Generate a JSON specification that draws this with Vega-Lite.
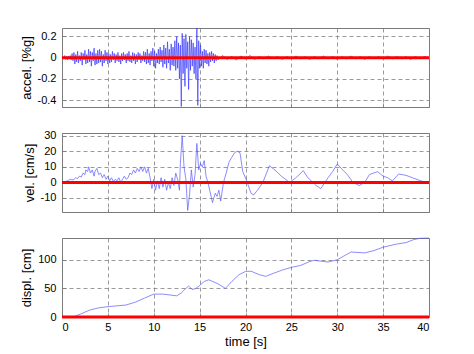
{
  "$schema": "https://vega.github.io/schema/vega-lite/v6.json",
  "padding": {"left": 19, "top": 26, "right": 0, "bottom": 0},
  "background": "white",
  "bounds": "flush",
  "config": {
    "font": "Liberation Sans",
    "view": {"stroke": "#7a7a7a", "strokeWidth": 1},
    "axis": {"grid": true, "gridColor": "#808080", "gridDash": [4, 3], "gridWidth": 0.8, "gridOpacity": 1, "domain": false, "ticks": true, "tickSize": -4, "tickColor": "#7a7a7a", "tickWidth": 0.8, "labelFont": "Liberation Sans", "labelFontSize": 11, "labelColor": "#000", "titleFont": "Liberation Sans", "titleFontSize": 13, "titleFontWeight": "normal", "titleColor": "#000", "labelPadding": 10, "titlePadding": 4, "labelOverlap": false},
    "concat": {"spacing": 26}
  },
  "datasets": {
    "acc": [
      {"t":0,"v":0},{"t":0.1,"v":0.01},{"t":0.2,"v":-0.01},{"t":0.3,"v":0.02},{"t":0.4,"v":-0.015},{"t":0.5,"v":0.01},{"t":0.6,"v":-0.02},{"t":0.7,"v":0.015},{"t":0.8,"v":-0.01},{"t":0.9,"v":0.02},
      {"t":1.0,"v":-0.02},{"t":1.1,"v":0.04},{"t":1.2,"v":-0.03},{"t":1.3,"v":0.05},{"t":1.4,"v":-0.06},{"t":1.5,"v":0.03},{"t":1.6,"v":-0.04},{"t":1.7,"v":0.06},{"t":1.8,"v":-0.05},{"t":1.9,"v":0.02},
      {"t":2.0,"v":-0.03},{"t":2.1,"v":0.05},{"t":2.2,"v":-0.07},{"t":2.3,"v":0.04},{"t":2.4,"v":-0.02},{"t":2.5,"v":0.07},{"t":2.6,"v":-0.06},{"t":2.7,"v":0.03},{"t":2.8,"v":-0.05},{"t":2.9,"v":0.08},
      {"t":3.0,"v":-0.04},{"t":3.1,"v":0.06},{"t":3.2,"v":-0.08},{"t":3.3,"v":0.05},{"t":3.4,"v":-0.03},{"t":3.5,"v":0.09},{"t":3.6,"v":-0.07},{"t":3.7,"v":0.04},{"t":3.8,"v":-0.06},{"t":3.9,"v":0.07},
      {"t":4.0,"v":-0.05},{"t":4.1,"v":0.08},{"t":4.2,"v":-0.04},{"t":4.3,"v":0.06},{"t":4.4,"v":-0.08},{"t":4.5,"v":0.03},{"t":4.6,"v":-0.05},{"t":4.7,"v":0.07},{"t":4.8,"v":-0.03},{"t":4.9,"v":0.05},
      {"t":5.0,"v":-0.06},{"t":5.1,"v":0.04},{"t":5.2,"v":-0.05},{"t":5.3,"v":0.03},{"t":5.4,"v":-0.04},{"t":5.5,"v":0.06},{"t":5.6,"v":-0.02},{"t":5.7,"v":0.04},{"t":5.8,"v":-0.05},{"t":5.9,"v":0.03},
      {"t":6.0,"v":-0.03},{"t":6.1,"v":0.05},{"t":6.2,"v":-0.04},{"t":6.3,"v":0.02},{"t":6.4,"v":-0.06},{"t":6.5,"v":0.04},{"t":6.6,"v":-0.03},{"t":6.7,"v":0.05},{"t":6.8,"v":-0.02},{"t":6.9,"v":0.03},
      {"t":7.0,"v":-0.05},{"t":7.1,"v":0.04},{"t":7.2,"v":-0.03},{"t":7.3,"v":0.06},{"t":7.4,"v":-0.04},{"t":7.5,"v":0.02},{"t":7.6,"v":-0.05},{"t":7.7,"v":0.05},{"t":7.8,"v":-0.03},{"t":7.9,"v":0.04},
      {"t":8.0,"v":-0.06},{"t":8.1,"v":0.03},{"t":8.2,"v":-0.04},{"t":8.3,"v":0.05},{"t":8.4,"v":-0.02},{"t":8.5,"v":0.04},{"t":8.6,"v":-0.05},{"t":8.7,"v":0.02},{"t":8.8,"v":-0.03},{"t":8.9,"v":0.06},
      {"t":9.0,"v":-0.04},{"t":9.1,"v":0.05},{"t":9.2,"v":-0.06},{"t":9.3,"v":0.08},{"t":9.4,"v":-0.05},{"t":9.5,"v":0.04},{"t":9.6,"v":-0.07},{"t":9.7,"v":0.06},{"t":9.8,"v":-0.03},{"t":9.9,"v":0.09},
      {"t":10.0,"v":-0.08},{"t":10.1,"v":0.06},{"t":10.2,"v":-0.1},{"t":10.3,"v":0.04},{"t":10.4,"v":-0.05},{"t":10.5,"v":0.08},{"t":10.6,"v":-0.06},{"t":10.7,"v":0.1},{"t":10.8,"v":-0.04},{"t":10.9,"v":0.07},
      {"t":11.0,"v":-0.09},{"t":11.1,"v":0.12},{"t":11.2,"v":-0.06},{"t":11.3,"v":0.09},{"t":11.4,"v":-0.1},{"t":11.5,"v":0.15},{"t":11.6,"v":-0.05},{"t":11.7,"v":0.08},{"t":11.8,"v":-0.12},{"t":11.9,"v":0.13},
      {"t":12.0,"v":-0.07},{"t":12.1,"v":0.1},{"t":12.2,"v":-0.08},{"t":12.3,"v":0.16},{"t":12.4,"v":-0.12},{"t":12.5,"v":0.2},{"t":12.6,"v":-0.1},{"t":12.7,"v":0.14},{"t":12.8,"v":-0.2},{"t":12.9,"v":0.12},
      {"t":13.0,"v":-0.46},{"t":13.1,"v":0.23},{"t":13.2,"v":-0.15},{"t":13.3,"v":0.18},{"t":13.4,"v":-0.27},{"t":13.5,"v":0.22},{"t":13.6,"v":-0.1},{"t":13.7,"v":0.15},{"t":13.8,"v":-0.3},{"t":13.9,"v":0.2},
      {"t":14.0,"v":-0.12},{"t":14.1,"v":0.17},{"t":14.2,"v":-0.08},{"t":14.3,"v":0.14},{"t":14.4,"v":-0.15},{"t":14.5,"v":0.1},{"t":14.6,"v":-0.2},{"t":14.7,"v":0.28},{"t":14.8,"v":-0.45},{"t":14.9,"v":0.16},
      {"t":15.0,"v":-0.1},{"t":15.1,"v":0.12},{"t":15.2,"v":-0.08},{"t":15.3,"v":0.06},{"t":15.4,"v":-0.1},{"t":15.5,"v":0.08},{"t":15.6,"v":-0.05},{"t":15.7,"v":0.07},{"t":15.8,"v":-0.06},{"t":15.9,"v":0.04},
      {"t":16.0,"v":-0.08},{"t":16.1,"v":0.05},{"t":16.2,"v":-0.04},{"t":16.3,"v":0.06},{"t":16.4,"v":-0.03},{"t":16.5,"v":0.04},{"t":16.6,"v":-0.05},{"t":16.7,"v":0.03},{"t":16.8,"v":-0.03},{"t":16.9,"v":0.02},
      {"t":17.0,"v":-0.02},{"t":17.5,"v":0.02},{"t":18,"v":-0.015},{"t":18.5,"v":0.01},{"t":19,"v":-0.02},{"t":19.5,"v":0.015},{"t":20,"v":-0.01},{"t":20.5,"v":0.02},{"t":21,"v":-0.015},{"t":21.5,"v":0.01},
      {"t":22,"v":-0.01},{"t":22.5,"v":0.015},{"t":23,"v":-0.01},{"t":23.5,"v":0.01},{"t":24,"v":-0.015},{"t":24.5,"v":0.01},{"t":25,"v":-0.01},{"t":25.5,"v":0.015},{"t":26,"v":-0.01},{"t":26.5,"v":0.01},
      {"t":27,"v":-0.015},{"t":27.5,"v":0.01},{"t":28,"v":-0.01},{"t":28.5,"v":0.015},{"t":29,"v":-0.01},{"t":29.5,"v":0.01},{"t":30,"v":-0.015},{"t":30.5,"v":0.01},{"t":31,"v":-0.01},{"t":31.5,"v":0.015},
      {"t":32,"v":-0.01},{"t":32.5,"v":0.01},{"t":33,"v":-0.015},{"t":33.5,"v":0.01},{"t":34,"v":-0.01},{"t":34.5,"v":0.01},{"t":35,"v":-0.01},{"t":35.5,"v":0.015},{"t":36,"v":-0.01},{"t":36.5,"v":0.01},
      {"t":37,"v":-0.01},{"t":37.5,"v":0.01},{"t":38,"v":-0.015},{"t":38.5,"v":0.01},{"t":39,"v":-0.01},{"t":39.5,"v":0.01},{"t":40,"v":0}
    ],
    "vel": [
      {"t":0,"v":0},{"t":0.3,"v":0.5},{"t":0.6,"v":1},{"t":0.9,"v":2},{"t":1.2,"v":1.5},{"t":1.5,"v":3},{"t":1.7,"v":2.5},{"t":1.9,"v":4},{"t":2.1,"v":3.5},{"t":2.3,"v":6},
      {"t":2.5,"v":5},{"t":2.6,"v":8},{"t":2.8,"v":7},{"t":2.9,"v":10},{"t":3.1,"v":6},{"t":3.3,"v":8},{"t":3.5,"v":4},{"t":3.6,"v":7},{"t":3.8,"v":9},{"t":4.0,"v":5},
      {"t":4.2,"v":6},{"t":4.4,"v":3},{"t":4.6,"v":5},{"t":4.8,"v":2},{"t":5.0,"v":4},{"t":5.2,"v":1},{"t":5.4,"v":3},{"t":5.6,"v":0.5},{"t":5.8,"v":2},{"t":6.0,"v":1},
      {"t":6.2,"v":3},{"t":6.4,"v":0},{"t":6.6,"v":2},{"t":6.8,"v":4},{"t":7.0,"v":2},{"t":7.2,"v":3},{"t":7.4,"v":6},{"t":7.6,"v":5},{"t":7.8,"v":8},{"t":8.0,"v":6},
      {"t":8.2,"v":9},{"t":8.4,"v":7},{"t":8.6,"v":10},{"t":8.8,"v":7},{"t":9.0,"v":10},{"t":9.2,"v":6},{"t":9.4,"v":9},{"t":9.6,"v":3},{"t":9.8,"v":-4},{"t":10.0,"v":2},
      {"t":10.2,"v":-5},{"t":10.4,"v":1},{"t":10.6,"v":-4},{"t":10.8,"v":3},{"t":11.0,"v":-3},{"t":11.2,"v":2},{"t":11.4,"v":-5},{"t":11.6,"v":0},{"t":11.8,"v":-4},{"t":12.0,"v":3},
      {"t":12.2,"v":-2},{"t":12.4,"v":6},{"t":12.6,"v":2},{"t":12.8,"v":-5},{"t":12.9,"v":12},{"t":13.1,"v":30},{"t":13.3,"v":10},{"t":13.5,"v":2},{"t":13.7,"v":-18},{"t":13.9,"v":-8},
      {"t":14.1,"v":8},{"t":14.3,"v":-3},{"t":14.5,"v":5},{"t":14.7,"v":25},{"t":14.9,"v":8},{"t":15.1,"v":12},{"t":15.3,"v":10},{"t":15.5,"v":14},{"t":15.7,"v":4},{"t":15.9,"v":0},
      {"t":16.1,"v":-5},{"t":16.4,"v":-13},{"t":16.7,"v":-7},{"t":16.9,"v":-9},{"t":17.1,"v":-5},{"t":17.3,"v":-12},{"t":17.6,"v":0},{"t":17.9,"v":6},{"t":18.2,"v":13},{"t":18.5,"v":16},
      {"t":18.8,"v":19},{"t":19.1,"v":20},{"t":19.4,"v":19},{"t":19.7,"v":7},{"t":20.1,"v":1.5},{"t":20.6,"v":-7},{"t":20.9,"v":-8},{"t":21.3,"v":-5},{"t":21.9,"v":0},{"t":22.6,"v":10.7},
      {"t":23.2,"v":8},{"t":23.9,"v":4},{"t":24.8,"v":0},{"t":25.5,"v":3},{"t":26.3,"v":7.5},{"t":26.8,"v":3},{"t":27.7,"v":-2},{"t":28.2,"v":-4},{"t":29.0,"v":3},{"t":29.5,"v":7},
      {"t":30.0,"v":11.8},{"t":30.6,"v":8},{"t":31.1,"v":5},{"t":31.7,"v":0},{"t":32.4,"v":-2},{"t":33.0,"v":0},{"t":33.5,"v":5},{"t":34.4,"v":6.9},{"t":35.0,"v":4},{"t":35.5,"v":3},
      {"t":36.0,"v":1},{"t":36.7,"v":5.4},{"t":37.5,"v":4.5},{"t":38.2,"v":3},{"t":39.1,"v":1},{"t":39.8,"v":0}
    ],
    "dis": [
      {"t":0,"v":0},{"t":1.2,"v":0},{"t":2,"v":5},{"t":3,"v":12},{"t":4,"v":16},{"t":5,"v":18},{"t":6,"v":19.5},{"t":7,"v":21},{"t":8,"v":26},{"t":9,"v":33},
      {"t":10,"v":40},{"t":11,"v":40},{"t":12,"v":38},{"t":12.5,"v":37},{"t":13,"v":42},{"t":13.5,"v":50},{"t":13.8,"v":54},{"t":14.2,"v":48},{"t":14.6,"v":50},{"t":15,"v":55},
      {"t":15.5,"v":62},{"t":16,"v":65},{"t":17,"v":58},{"t":17.8,"v":50},{"t":18.5,"v":62},{"t":19.3,"v":74},{"t":20,"v":79.6},{"t":20.6,"v":80},{"t":21.5,"v":74},{"t":22.2,"v":71},
      {"t":23,"v":76},{"t":24,"v":82},{"t":25,"v":86.7},{"t":26,"v":90},{"t":27,"v":97},{"t":27.5,"v":99},{"t":29,"v":96},{"t":30,"v":100},{"t":31.5,"v":113.5},{"t":33,"v":112},
      {"t":34,"v":116},{"t":35,"v":122},{"t":36.5,"v":127.5},{"t":37.5,"v":130},{"t":38.3,"v":135},{"t":39,"v":137.5},{"t":40,"v":138}
    ],
    "zero": [{"z": 0}]
  },
  "vconcat": [
    {
      "width": 367, "height": 79,
      "layer": [
        {"data": {"name": "acc"}, "mark": {"type": "line", "color": "#3a3aff", "strokeWidth": 0.7},
         "encoding": {
           "x": {"field": "t", "type": "quantitative", "scale": {"domain": [0, 40], "nice": false}, "axis": {"values": [0,5,10,15,20,25,30,35,40], "labels": false, "title": null}},
           "y": {"field": "v", "type": "quantitative", "scale": {"domain": [-0.465, 0.28], "nice": false, "zero": false}, "axis": {"values": [-0.4,-0.2,0,0.2], "title": "accel. [%g]", "labelExpr": "'' + datum.value"}}
         }},
        {"data": {"name": "zero"}, "mark": {"type": "rule", "color": "#ff0000", "strokeWidth": 3},
         "encoding": {"y": {"field": "z", "type": "quantitative", "axis": {"values": [-0.4,-0.2,0,0.2], "title": "accel. [%g]", "labelExpr": "'' + datum.value"}}}}
      ]
    },
    {
      "width": 367, "height": 79,
      "layer": [
        {"data": {"name": "vel"}, "mark": {"type": "line", "color": "#5a5aff", "strokeWidth": 0.7},
         "encoding": {
           "x": {"field": "t", "type": "quantitative", "scale": {"domain": [0, 40], "nice": false}, "axis": {"values": [0,5,10,15,20,25,30,35,40], "labels": false, "title": null}},
           "y": {"field": "v", "type": "quantitative", "scale": {"domain": [-19, 31.7], "nice": false, "zero": false}, "axis": {"values": [-10,0,10,20,30], "title": "vel. [cm/s]", "labelExpr": "'' + datum.value"}}
         }},
        {"data": {"name": "zero"}, "mark": {"type": "rule", "color": "#ff0000", "strokeWidth": 3},
         "encoding": {"y": {"field": "z", "type": "quantitative", "axis": {"values": [-10,0,10,20,30], "title": "vel. [cm/s]", "labelExpr": "'' + datum.value"}}}}
      ]
    },
    {
      "width": 367, "height": 79,
      "layer": [
        {"data": {"name": "dis"}, "mark": {"type": "line", "color": "#5a5aff", "strokeWidth": 0.7},
         "encoding": {
           "x": {"field": "t", "type": "quantitative", "scale": {"domain": [0, 40], "nice": false}, "axis": {"values": [0,5,10,15,20,25,30,35,40], "title": "time [s]", "labelPadding": 8, "titlePadding": 3}},
           "y": {"field": "v", "type": "quantitative", "scale": {"domain": [0, 138], "nice": false}, "axis": {"values": [0,50,100], "title": "displ. [cm]"}}
         }},
        {"data": {"name": "zero"}, "mark": {"type": "rule", "color": "#ff0000", "strokeWidth": 3},
         "encoding": {"y": {"field": "z", "type": "quantitative", "axis": {"values": [0,50,100], "title": "displ. [cm]"}}}}
      ]
    }
  ]
}
